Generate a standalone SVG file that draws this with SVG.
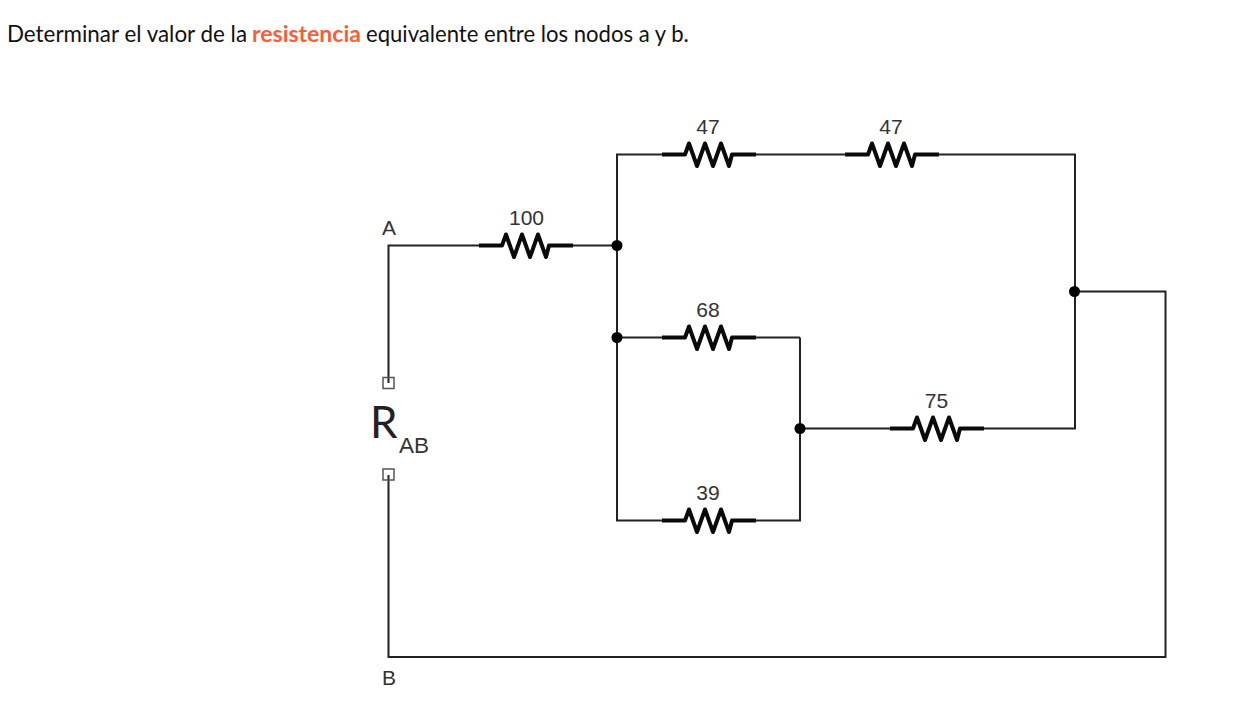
<svg xmlns="http://www.w3.org/2000/svg" width="1244" height="718" viewBox="0 0 1244 718">
<style>
.w{fill:none;stroke:#222;stroke-width:2}
.r{fill:none;stroke:#0a0a0a;stroke-width:4;stroke-linejoin:round;stroke-linecap:butt}
.d{fill:#000}
.l{font-family:"Liberation Sans",Arial,sans-serif;font-size:21px;fill:#333;text-anchor:middle}
.t{font-family:Lato,"Noto Sans",sans-serif;font-size:22.400px;fill:#111}
.term{fill:none;stroke:#555;stroke-width:1.500}
</style>
<defs>
<path id="res" class="r" d="M0 0H23L27 -11L35 11.500L43 -11L51 11.500L59 -11L67 11.500L70 0H94"/>
</defs>
<rect width="1244" height="718" fill="#fff"/>
<text id="title" class="t" x="7" y="41.500">Determinar el valor de la <tspan x="252" fill="#f2613a" font-weight="700" font-size="23">resistencia</tspan><tspan font-size="22.100"> </tspan><tspan x="366" font-size="22.100">equivalente entre los nodos a y b.</tspan></text>
<g id="connectors">
<path class="w" d="M388.500 383V245.500H479M573 245.500H617M617 337.500V154.500H662M756 154.500H845M939 154.500H1075V428.500H984M890 428.500H800M800 337.500V520.500H756M662 520.500H617V245M617 337.500H662M756 337.500H800"/>
<path class="w" d="M1075 291.500H1165.500V657H388.500V475"/>
</g>
<g id="R1"><use href="#res" x="479" y="245.500"/><text class="l" x="526.500" y="225">100</text></g>
<g id="R2"><use href="#res" x="662" y="154.500"/><text class="l" x="708" y="134">47</text></g>
<g id="R3"><use href="#res" x="845" y="154.500"/><text class="l" x="891" y="134">47</text></g>
<g id="R4"><use href="#res" x="662" y="337.500"/><text class="l" x="708" y="316.500">68</text></g>
<g id="R5"><use href="#res" x="662" y="520.500"/><text class="l" x="708" y="499.500">39</text></g>
<g id="R6"><use href="#res" x="890" y="428.500"/><text class="l" x="936.500" y="407.500">75</text></g>
<g id="nodes">
<circle class="d" cx="617" cy="245.500" r="5.500"/>
<circle class="d" cx="617" cy="337.500" r="5.500"/>
<circle class="d" cx="800" cy="428.500" r="5.500"/>
<circle class="d" cx="1074.500" cy="291.500" r="5.500"/>
</g>
<g id="terminalA"><rect class="term" x="383" y="377.500" width="11" height="11"/><text class="l" x="389" y="234.500">A</text></g>
<g id="terminalB"><rect class="term" x="383" y="469" width="11" height="11"/><text class="l" x="389" y="685">B</text></g>
<g id="rab"><text x="370" y="438" font-family="Lato,sans-serif" font-size="44" fill="#222">R</text><text x="399" y="453" font-family="Liberation Sans,sans-serif" font-size="22.500" fill="#333">AB</text></g>
</svg>
